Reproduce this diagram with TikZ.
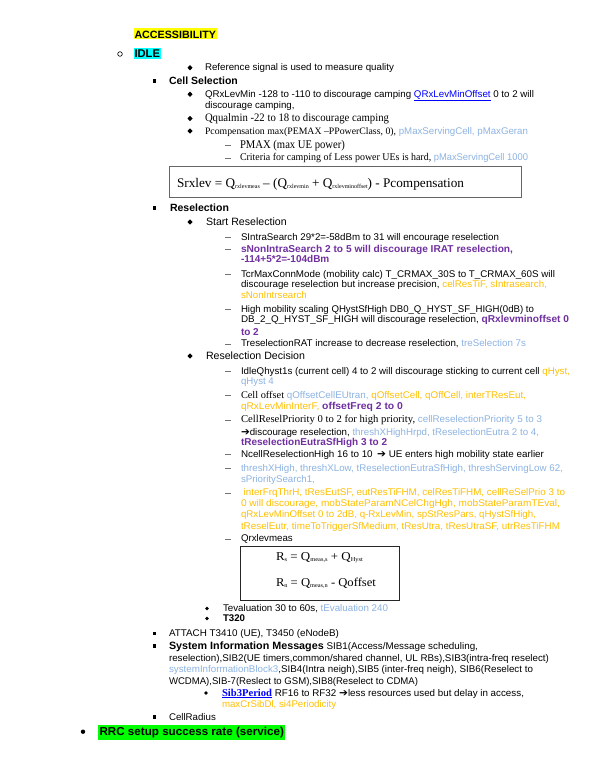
\documentclass[tikz,border=0pt]{standalone}
\usepackage{fontspec}
\setmainfont{Liberation Sans}
\newfontfamily\srf{Liberation Serif}
\newfontfamily\djv{DejaVu Sans}
\definecolor{lblue}{RGB}{141,179,226}
\definecolor{orng}{RGB}{255,192,0}
\definecolor{purp}{RGB}{112,48,160}
\definecolor{linkb}{RGB}{0,0,255}
\definecolor{hlyellow}{RGB}{255,255,0}
\definecolor{hlcyan}{RGB}{0,255,255}
\definecolor{hlgreen}{RGB}{0,255,0}
\newcommand\fs[1]{\fontsize{#1}{#1}\selectfont}
\newcommand\lb[1]{{\color{lblue}#1}}
\newcommand\og[1]{{\color{orng}#1}}
\newcommand\pp[1]{{\color{purp}\bfseries\fs{10}#1}}
\newcommand\sbx[1]{\raisebox{-1.2pt}{\fs{6}#1}}
\newcommand\arr{{\djv\bfseries\fs{10.5}➔}}
\newsavebox\fitbox
\newcommand\txtline[4]{\node[txt] (#1) at (#2,#3) {#4};}
\newcommand\fitline[5]{\node[txt] (#1) at (#2,#3) {\sbox\fitbox{#5}\pgfmathsetmacro\fitf{(#4-#2)/\wd\fitbox}\scalebox{\fitf}[1]{\usebox\fitbox}};}
\newcommand\dia[2]{\fill[shift={(#1,#2)}] (-2.5,0)--(0,-2.7)--(2.5,0)--(0,2.7)--cycle;}
\newcommand\sqb[2]{\fill[shift={(#1,#2)}] (-1.6,-1.6) rectangle (1.6,1.6);}
\newcommand\rdb[2]{\fill (#1,#2) circle (1.9pt);}
\newcommand\dsh[1]{\draw[black!55,line width=0.7pt,shift={(225,#1)}] (0,0)--(5.5,0);}
\begin{document}
\begin{tikzpicture}[x=1pt,y=-1pt,
  txt/.style={anchor=base west,inner sep=0pt,outer sep=0pt,font=\fs{9.7}},
  fbox/.style={line width=1.2pt}]
\useasboundingbox[fill=white] (0,0) rectangle (600,776);
% headings
\fill[hlyellow] (134,28.3) rectangle (216.5,39.3);
\fitline{acc}{134.5}{38.3}{216}{\bfseries\fs{10.6}ACCESSIBILITY}
\draw[line width=0.6pt] (120,54) circle (2.3pt);
\fill[hlcyan] (134,48.3) rectangle (161,59.3);
\txtline{idle}{134.5}{57.7}{\bfseries\fs{11.2}IDLE}
% cell selection
\dia{190}{67.7}
\fitline{l3}{205}{70.3}{394}{Reference signal is used to measure quality}
\sqb{154.3}{81}
\txtline{l4}{169}{84.3}{\bfseries\fs{10.5}Cell Selection}
\dia{190}{94.3}
\fitline{l5}{205}{97}{534}{QRxLevMin -128 to -110 to discourage camping {\color{linkb}\underline{QRxLevMinOffset}} 0 to 2 will}
\txtline{l6}{205}{108.3}{discourage camping,}
\dia{190}{118.5}
\fitline{l7}{205}{121.3}{389}{\srf\fs{11.4}Qqualmin -22 to 18 to discourage camping}
\dia{190}{131}
\fitline{l8}{205}{134}{528}{{\srf\fs{9.8}Pcompensation max(PEMAX –PPowerClass, 0),} \lb{pMaxServingCell, pMaxGeran}}
\dsh{145.5}
\fitline{l9}{240}{148.3}{345}{\srf\fs{11.8}PMAX (max UE power)}
\dsh{158}
\fitline{l10}{240}{160.7}{528}{{\srf\fs{10.3}Criteria for camping of Less power UEs is hard,} \lb{pMaxServingCell 1000}}
\node[draw=black!60,fbox,inner sep=0pt,minimum width=352pt,minimum height=31pt,anchor=north west] (srxbox) at (169,165.7) {};
\fitline{srx}{177}{187.3}{464}{\srf\fs{13.2}Srxlev = Q\sbx{rxlevmeas} – (Q\sbx{rxlevmin} + Q\sbx{rxlevminoffset}) - Pcompensation}
% reselection
\sqb{154.3}{208}
\txtline{l12}{170}{211}{\bfseries\fs{10.5}Reselection}
\dia{190}{222}
\txtline{l13}{206}{225}{\fs{10.6}Start Reselection}
\dsh{237.3}
\fitline{l14}{241}{240}{499}{SIntraSearch 29*2=-58dBm to 31 will encourage reselection}
\dsh{249.5}
\fitline{l15}{241}{252.3}{513}{\pp{sNonIntraSearch 2 to 5 will discourage IRAT reselection,}}
\txtline{l16}{241}{262.7}{\pp{-114+5*2=-104dBm}}
\dsh{274.2}
\fitline{l17}{241}{277}{555}{TcrMaxConnMode (mobility calc) T\_CRMAX\_30S to T\_CRMAX\_60S will}
\fitline{l18}{241}{287.7}{547}{discourage reselection but increase precision, \og{celResTiF, sIntrasearch,}}
\txtline{l19}{241}{298}{\og{sNonIntrsearch}}
\dsh{309.5}
\fitline{l20}{241}{312.3}{534}{High mobility scaling QHystSfHigh DB0\_Q\_HYST\_SF\_HIGH(0dB) to}
\fitline{l21}{241}{322.3}{569}{DB\_2\_Q\_HYST\_SF\_HIGH will discourage reselection, \pp{qRxlevminoffset 0}}
\txtline{l22}{241}{335}{\pp{to 2}}
\dsh{343.9}
\fitline{l23}{241}{346.7}{526}{TreselectionRAT increase to decrease reselection, \lb{treSelection 7s}}
\dia{190}{356}
\txtline{l24}{206}{359}{\fs{10.6}Reselection Decision}
\dsh{371.2}
\fitline{l25}{241}{374}{570}{IdleQhyst1s (current cell) 4 to 2 will discourage sticking to current cell \og{qHyst,}}
\txtline{l26}{241}{384.3}{\lb{qHyst 4}}
\dsh{395.5}
\fitline{l27}{241}{398.3}{526}{{\srf\fs{10.2}Cell offset} \lb{qOffsetCellEUtran,} \og{qOffsetCell, qOffCell, interTResEut,}}
\fitline{l28}{241}{409}{403}{\og{qRxLevMinInterF,} \pp{offsetFreq 2 to 0}}
\dsh{419.9}
\fitline{l29}{241}{422.7}{542}{{\srf\fs{10.5}CellReselPriority 0 to 2 for high priority,} \lb{cellReselectionPriority 5 to 3}}
\fitline{l30}{241}{435}{539}{\arr discourage reselection, \lb{threshXHighHrpd, tReselectionEutra 2 to 4,}}
\txtline{l31}{241}{445.7}{\pp{tReselectionEutraSfHigh 3 to 2}}
\dsh{454.5}
\fitline{l32}{241}{457.3}{544}{NcellReselectionHigh 16 to 10 \,\arr\ UE enters high mobility state earlier}
\dsh{468.2}
\fitline{l33}{241}{471}{563}{\lb{threshXHigh, threshXLow, tReselectionEutraSfHigh, threshServingLow 62,}}
\txtline{l34}{241}{482}{\lb{sPrioritySearch1,}}
\dsh{492.9}
\fitline{l35}{241}{495.7}{565}{\og{\ interFrqThrH, tResEutSF, eutResTiFHM, celResTiFHM, cellReSelPrio 3 to}}
\fitline{l36}{241}{506.3}{560}{\og{0 will discourage, mobStateParamNCelChgHgh, mobStateParamTEval,}}
\fitline{l37}{241}{517.7}{536}{\og{qRxLevMinOffset 0 to 2dB, q-RxLevMin, spStResPars, qHystSfHigh,}}
\fitline{l38}{241}{529.3}{560}{\og{tReselEutr, timeToTriggerSfMedium, tResUtra, tResUtraSF, utrResTiFHM}}
\dsh{538.9}
\txtline{l39}{241}{541.7}{Qrxlevmeas}
\node[draw=black!85,fbox,inner sep=0pt,minimum width=159pt,minimum height=54.3pt,anchor=north west] (rbox) at (240,545.7) {};
\fitline{rs}{276}{560}{363}{\srf\fs{12}R\sbx{s} = Q\sbx{meas,s} + Q\sbx{Hyst}}
\fitline{rn}{276}{586.7}{376}{\srf\fs{12}R\sbx{n} = Q\sbx{meas,n} - Qoffset}
\rdb{207}{608.5}
\fitline{l41}{223}{611.7}{388}{Tevaluation 30 to 60s, \lb{tEvaluation 240}}
\rdb{207}{618.5}
\txtline{l42}{223}{621.7}{\bfseries T320}
% other items
\sqb{154.3}{633.8}
\fitline{l43}{169}{636.7}{339}{ATTACH T3410 (UE), T3450 (eNodeB)}
\sqb{154.3}{646}
\fitline{l44}{169}{649}{478}{{\bfseries\fs{10.6}System Information Messages} SIB1(Access/Message scheduling,}
\fitline{l45}{169}{661}{549}{reselection),SIB2(UE timers,common/shared channel, UL RBs),SIB3(intra-freq reselect)}
\fitline{l46}{169}{672.3}{533}{\lb{systemInformationBlock3},SIB4(Intra neigh),SIB5 (inter-freq neigh), SIB6(Reselect to}
\fitline{l47}{169}{684}{418}{WCDMA),SIB-7(Reslect to GSM),SIB8(Reselect to CDMA)}
\rdb{206}{693}
\fitline{l48}{222}{696}{524}{{\color{linkb}\underline{\srf\bfseries\fs{10.5}Sib3Period}} RF16 to RF32 \arr less resources used but delay in access,}
\txtline{l49}{222}{707.3}{\og{maxCrSibDl, si4Periodicity}}
\sqb{154.3}{717}
\txtline{l50}{169}{720}{CellRadius}
\fill (83,731.7) circle (2.2pt);
\fill[hlgreen] (98,725) rectangle (285,739.5);
\fitline{rrc}{99.5}{735.7}{284}{\bfseries\fs{11.5}RRC setup success rate (service)}
\end{tikzpicture}
\end{document}
